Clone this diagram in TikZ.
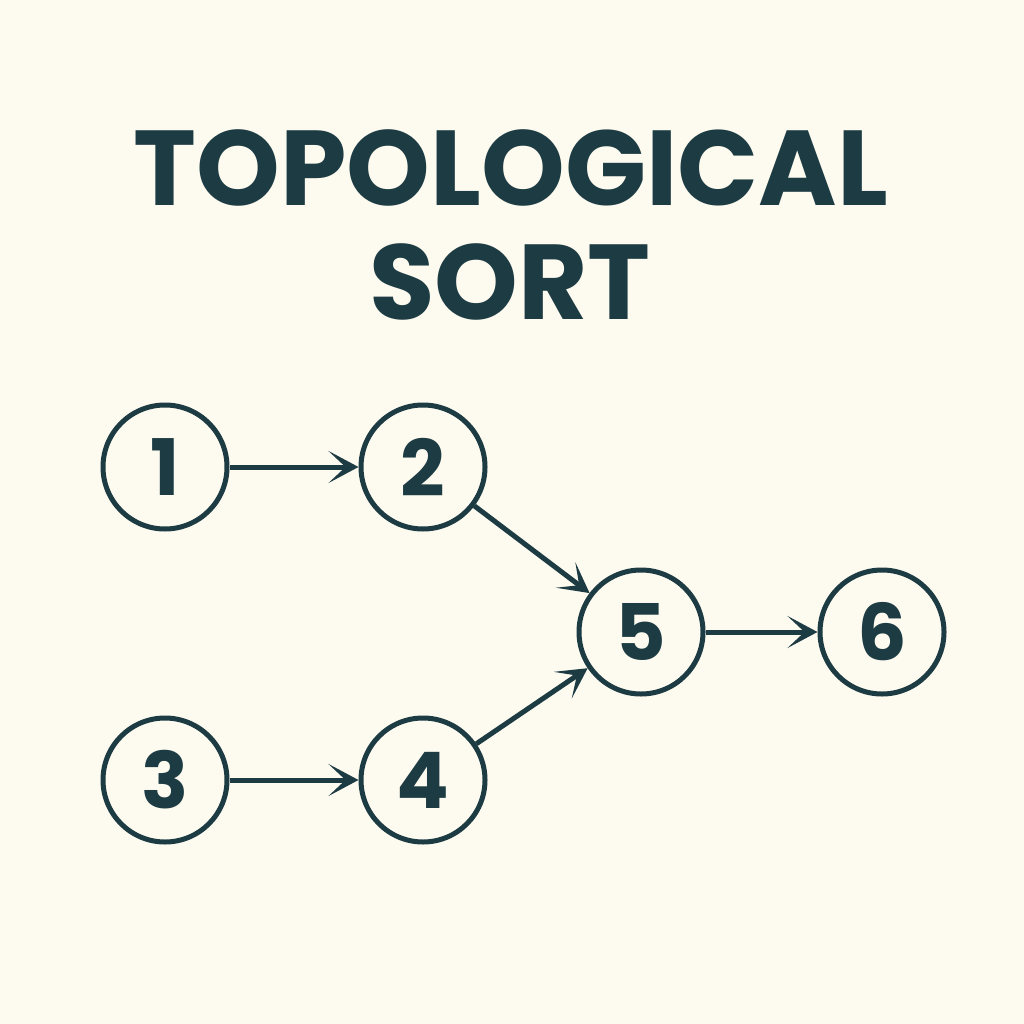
\documentclass[tikz,border=0pt]{standalone}
\usepackage{fontspec}
\setmainfont{Poppins}
\usepackage{xcolor}
\usetikzlibrary{arrows.meta, positioning}
\definecolor{ink}{HTML}{1C3B42}
\definecolor{paper}{HTML}{FDFAF0}

\begin{document}
\begin{tikzpicture}[
    x=1pt, y=-1pt,
    vertex/.style={circle, draw=ink, line width=5pt, minimum size=124pt, inner sep=0pt,
        text=ink, font=\fontsize{78}{78}\selectfont\bfseries},
    arrow/.style={-{Stealth[length=30pt, width=32pt, inset=17pt]}, draw=ink, line width=5pt},
    title/.style={text=ink, font=\fontsize{106.5}{106.5}\selectfont\bfseries, inner sep=0pt}
]
    \fill[paper] (0,0) rectangle (1024,1024);
    \useasboundingbox (0,0) rectangle (1024,1024);

    \node[title] (line1) at (511,168) {TOPOLOGICAL};
    \node[title] (line2) at (510,282) {SORT};

    \node[vertex] (v1) at (165,467) {1};
    \node[vertex] (v2) at (423,467) {2};
    \node[vertex] (v3) at (165,780) {3};
    \node[vertex] (v4) at (423,780) {4};
    \node[vertex] (v5) at (641,632) {5};
    \node[vertex] (v6) at (882,632) {6};

    \draw[arrow] (v1) -- (v2);
    \draw[arrow] (v3) -- (v4);
    \draw[arrow] (v2) -- (v5);
    \draw[arrow] (v4) -- (v5);
    \draw[arrow] (v5) -- (v6);
\end{tikzpicture}
\end{document}
